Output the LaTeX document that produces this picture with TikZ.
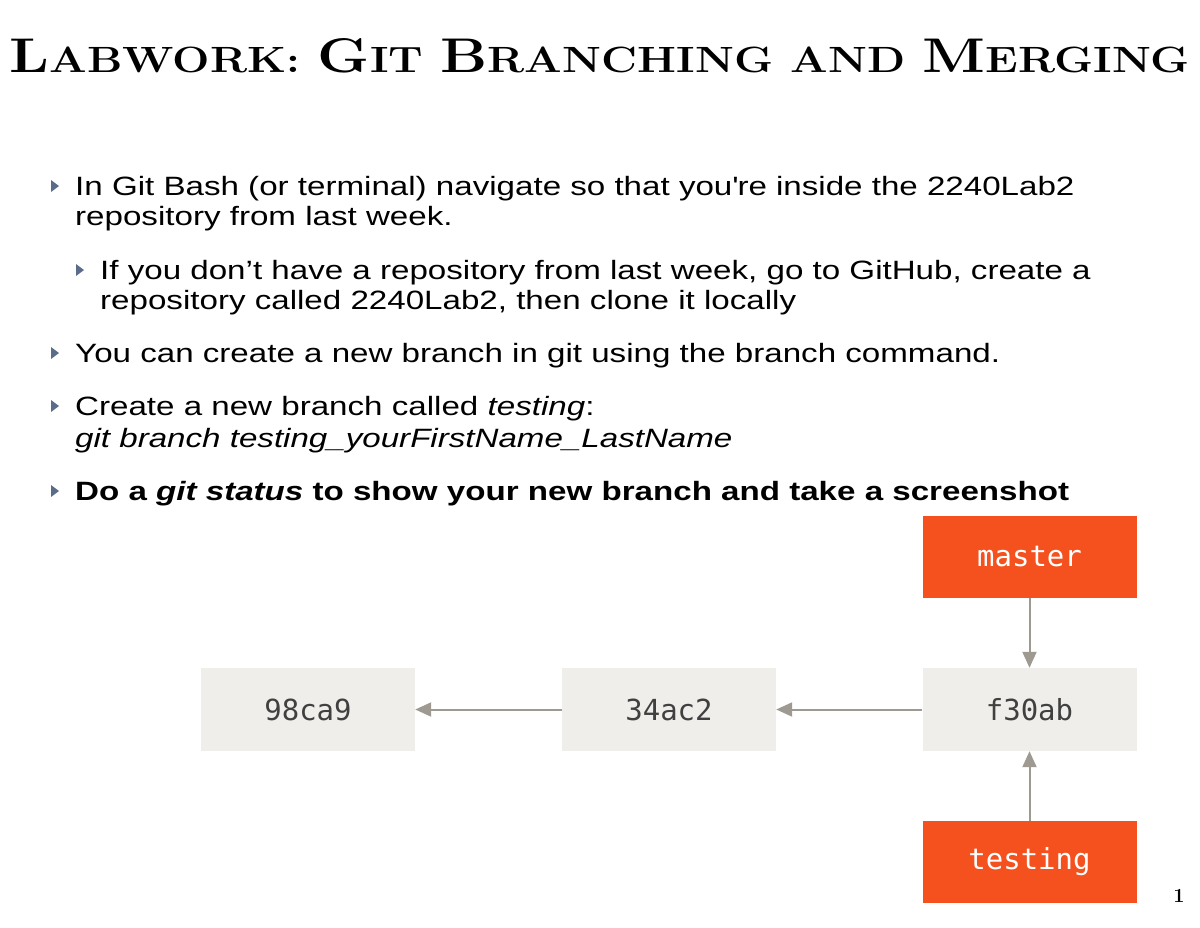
\documentclass[tikz,border=0pt]{standalone}
\usepackage{fontspec}
\setmainfont{Liberation Sans}[FakeStretch=1.25]
\newfontfamily\mono{DejaVu Sans Mono}
\newfontfamily\ttl{Latin Modern Roman}
\usetikzlibrary{arrows.meta}
\definecolor{gorange}{HTML}{F4511E}
\definecolor{gbox}{HTML}{EFEEEA}
\definecolor{garrow}{HTML}{9E9A92}
\definecolor{bul}{HTML}{5A6C88}
\tikzset{
 commit/.style={fill=gbox,minimum width=214pt,minimum height=83pt,inner sep=0pt,font=\mono\fontsize{29}{29}\selectfont,text=black!75},
 branch/.style={fill=gorange,minimum width=214pt,minimum height=82pt,inner sep=0pt,font=\mono\fontsize{29}{29}\selectfont,text=white},
 link/.style={draw=garrow,line width=2pt,-{Triangle[length=16pt,width=14pt]}},
 txt/.style={anchor=base west,inner sep=0pt,font=\fontsize{26.5}{30}\selectfont},
}
\newcommand{\bmark}[2]{\fill[bul] (#1-4,#2-15) -- (#1+4,#2-9) -- (#1-4,#2-3) -- cycle;}
\newcommand{\tsc}[2]{{\fontsize{44}{44}\selectfont #1}{\fontsize{33}{33}\selectfont #2}}
\newcommand{\tgap}{\hspace{13pt}}
\begin{document}
\begin{tikzpicture}[x=1pt,y=-1pt]
\useasboundingbox (0,0) rectangle (1200,927);
\node[anchor=base,inner sep=0pt] (title) at (600,72) {\resizebox{1180pt}{34pt}{\ttl\bfseries\tsc{L}{ABWORK:}\tgap\tsc{G}{IT}\tgap\tsc{B}{RANCHING}\tgap\tsc{}{AND}\tgap\tsc{M}{ERGING}}};
\bmark{55}{195}
\node[txt] (l1) at (75,195) {In Git Bash (or terminal) navigate so that you\textquotesingle re inside the 2240Lab2};
\node[txt] (l2) at (75,225) {repository from last week.};
\bmark{80}{279}
\node[txt] (l3) at (100,279) {If you don’t have a repository from last week, go to GitHub, create a};
\node[txt] (l4) at (100,309) {repository called 2240Lab2, then clone it locally};
\bmark{55}{362}
\node[txt] (l5) at (75,362) {You can create a new branch in git using the branch command.};
\bmark{55}{415}
\node[txt] (l6) at (75,415) {Create a new branch called \textit{testing}:};
\node[txt] (l7) at (75,447) {\textit{git branch testing\_yourFirstName\_LastName}};
\bmark{55}{500}
\node[txt] (l8) at (75,500) {\bfseries Do a \textit{git status} to show your new branch and take a screenshot};
\node[commit] (c1) at (308,709.5) {98ca9};
\node[commit] (c2) at (669,709.5) {34ac2};
\node[commit] (c3) at (1029.5,709.5) {f30ab};
\node[branch] (m) at (1029.5,557) {master};
\node[branch] (t) at (1029.5,862) {testing};
\draw[link] (c2) -- (c1);
\draw[link] (c3) -- (c2);
\draw[link] (m) -- (c3);
\draw[link] (t) -- (c3);
\node[anchor=base,inner sep=0pt,font=\ttl\bfseries\fontsize{20}{20}\selectfont] (pg) at (1179,902) {1};
\end{tikzpicture}
\end{document}
